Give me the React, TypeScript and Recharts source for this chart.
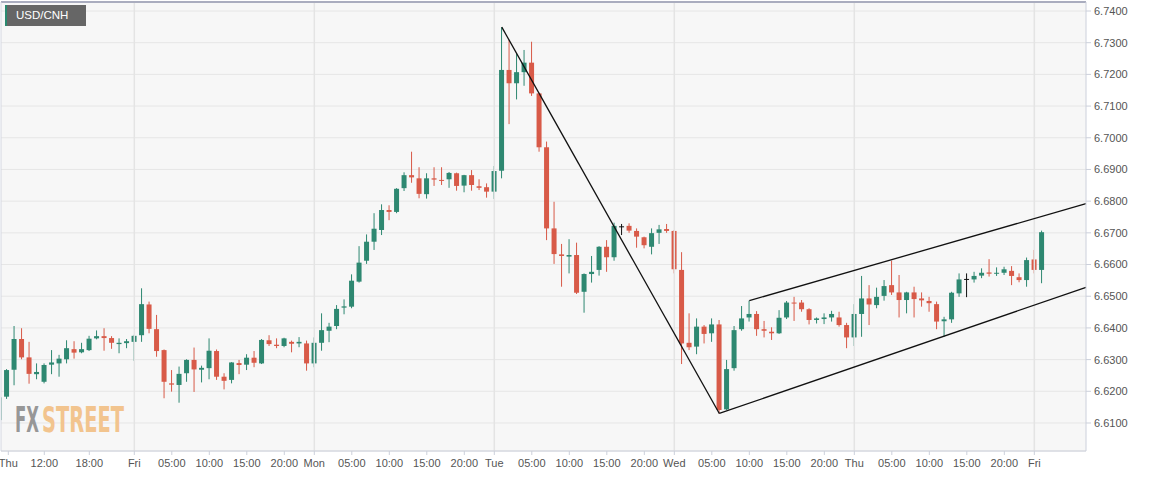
import { Bar, CartesianGrid, ComposedChart, ReferenceLine, XAxis, YAxis } from 'recharts'

// hourly candles, slot 0 = Thu 06:00
const opens = [
  6.6109, 6.6183, 6.6268, 6.6365, 6.6307, 6.6254, 6.6230, 6.6284, 6.6288, 6.6301,
  6.6333, 6.6323, 6.6330, 6.6367, 6.6374, 6.6368, 6.6349, 6.6352, 6.6356, 6.6377,
  6.6474, 6.6396, 6.6330, 6.6225, 6.6220, 6.6257, 6.6299, 6.6268, 6.6273, 6.6327,
  6.6246, 6.6236, 6.6289, 6.6284, 6.6306, 6.6288, 6.6361, 6.6347, 6.6343, 6.6356,
  6.6351, 6.6351, 6.6288, 6.6353, 6.6391, 6.6406, 6.6464, 6.6467, 6.6546, 6.6612,
  6.6672, 6.6709, 6.6772, 6.6766, 6.6841, 6.6882, 6.6872, 6.6822, 6.6872, 6.6867,
  6.6869, 6.6888, 6.6849, 6.6882, 6.6847, 6.6844, 6.6830, 6.6896, 6.7214, 6.7172,
  6.7207, 6.7237, 6.7140, 6.6970, 6.6714, 6.6632, 6.6625, 6.6630, 6.6514, 6.6570,
  6.6583, 6.6656, 6.6623, 6.6719, 6.6722, 6.6706, 6.6686, 6.6656, 6.6700, 6.6712,
  6.6706, 6.6583, 6.6353, 6.6341, 6.6404, 6.6383, 6.6411, 6.6143, 6.6273, 6.6396,
  6.6433, 6.6444, 6.6396, 6.6388, 6.6383, 6.6433, 6.6480, 6.6480, 6.6459, 6.6425,
  6.6428, 6.6433, 6.6433, 6.6409, 6.6370, 6.6444, 6.6493, 6.6472, 6.6501, 6.6535,
  6.6512, 6.6488, 6.6512, 6.6493, 6.6485, 6.6475, 6.6421, 6.6427, 6.6509, 6.6553,
  6.6553, 6.6565, 6.6575, 6.6571, 6.6574, 6.6580, 6.6560, 6.6551, 6.6616, 6.6583,
]
const highs = [
  6.6220, 6.6270, 6.6406, 6.6399, 6.6356, 6.6288, 6.6288, 6.6330, 6.6315, 6.6361,
  6.6358, 6.6353, 6.6375, 6.6392, 6.6399, 6.6374, 6.6367, 6.6365, 6.6378, 6.6525,
  6.6483, 6.6441, 6.6332, 6.6267, 6.6278, 6.6301, 6.6338, 6.6281, 6.6367, 6.6332,
  6.6257, 6.6292, 6.6299, 6.6317, 6.6327, 6.6365, 6.6377, 6.6367, 6.6369, 6.6360,
  6.6371, 6.6360, 6.6370, 6.6446, 6.6416, 6.6472, 6.6490, 6.6569, 6.6658, 6.6695,
  6.6762, 6.6790, 6.6787, 6.6841, 6.6891, 6.6956, 6.6907, 6.6888, 6.6907, 6.6907,
  6.6892, 6.6890, 6.6883, 6.6898, 6.6869, 6.6856, 6.6911, 6.7349, 6.7308, 6.7267,
  6.7277, 6.7303, 6.7142, 6.6988, 6.6798, 6.6665, 6.6680, 6.6669, 6.6572, 6.6627,
  6.6658, 6.6677, 6.6732, 6.6728, 6.6730, 6.6714, 6.6688, 6.6714, 6.6725, 6.6728,
  6.6709, 6.6639, 6.6446, 6.6430, 6.6409, 6.6430, 6.6425, 6.6299, 6.6406, 6.6469,
  6.6486, 6.6453, 6.6422, 6.6402, 6.6456, 6.6485, 6.6498, 6.6488, 6.6462, 6.6433,
  6.6446, 6.6454, 6.6451, 6.6416, 6.6475, 6.6564, 6.6535, 6.6527, 6.6551, 6.6612,
  6.6567, 6.6514, 6.6530, 6.6512, 6.6498, 6.6483, 6.6435, 6.6514, 6.6572, 6.6572,
  6.6577, 6.6588, 6.6617, 6.6591, 6.6593, 6.6595, 6.6572, 6.6622, 6.6646, 6.6707,
]
const lows = [
  6.6100, 6.6176, 6.6219, 6.6301, 6.6224, 6.6238, 6.6225, 6.6254, 6.6246, 6.6288,
  6.6303, 6.6320, 6.6327, 6.6364, 6.6328, 6.6334, 6.6320, 6.6336, 6.6296, 6.6356,
  6.6383, 6.6309, 6.6178, 6.6199, 6.6164, 6.6230, 6.6198, 6.6228, 6.6238, 6.6236,
  6.6206, 6.6225, 6.6254, 6.6267, 6.6276, 6.6286, 6.6343, 6.6336, 6.6339, 6.6323,
  6.6339, 6.6265, 6.6276, 6.6328, 6.6355, 6.6396, 6.6443, 6.6462, 6.6543, 6.6602,
  6.6646, 6.6693, 6.6740, 6.6762, 6.6832, 6.6858, 6.6809, 6.6808, 6.6848, 6.6851,
  6.6842, 6.6833, 6.6828, 6.6833, 6.6835, 6.6811, 6.6807, 6.6872, 6.7043, 6.7121,
  6.7164, 6.7132, 6.6956, 6.6677, 6.6602, 6.6530, 6.6572, 6.6507, 6.6448, 6.6543,
  6.6565, 6.6577, 6.6612, 6.6693, 6.6700, 6.6653, 6.6651, 6.6632, 6.6665, 6.6700,
  6.6572, 6.6286, 6.6330, 6.6317, 6.6351, 6.6356, 6.6130, 6.6141, 6.6265, 6.6391,
  6.6420, 6.6375, 6.6370, 6.6362, 6.6381, 6.6428, 6.6422, 6.6451, 6.6411, 6.6414,
  6.6412, 6.6420, 6.6404, 6.6336, 6.6343, 6.6372, 6.6409, 6.6462, 6.6486, 6.6504,
  6.6433, 6.6446, 6.6433, 6.6467, 6.6451, 6.6396, 6.6372, 6.6416, 6.6498, 6.6497,
  6.6543, 6.6557, 6.6562, 6.6564, 6.6567, 6.6535, 6.6544, 6.6530, 6.6572, 6.6541,
]
const closes = [
  6.6181, 6.6267, 6.6365, 6.6307, 6.6255, 6.6261, 6.6283, 6.6291, 6.6303, 6.6336,
  6.6322, 6.6333, 6.6366, 6.6374, 6.6368, 6.6353, 6.6353, 6.6358, 6.6375, 6.6475,
  6.6397, 6.6327, 6.6230, 6.6221, 6.6255, 6.6299, 6.6269, 6.6274, 6.6328, 6.6246,
  6.6233, 6.6291, 6.6283, 6.6306, 6.6290, 6.6362, 6.6349, 6.6343, 6.6367, 6.6350,
  6.6356, 6.6288, 6.6353, 6.6393, 6.6404, 6.6460, 6.6468, 6.6549, 6.6606, 6.6672,
  6.6713, 6.6772, 6.6766, 6.6839, 6.6882, 6.6875, 6.6823, 6.6872, 6.6868, 6.6865,
  6.6889, 6.6848, 6.6882, 6.6851, 6.6842, 6.6830, 6.6895, 6.7214, 6.7172, 6.7207,
  6.7237, 6.7140, 6.6970, 6.6714, 6.6633, 6.6627, 6.6630, 6.6511, 6.6570, 6.6577,
  6.6656, 6.6623, 6.6722, 6.6719, 6.6707, 6.6688, 6.6661, 6.6699, 6.6711, 6.6706,
  6.6585, 6.6351, 6.6339, 6.6404, 6.6381, 6.6411, 6.6141, 6.6270, 6.6393, 6.6430,
  6.6444, 6.6396, 6.6391, 6.6383, 6.6432, 6.6480, 6.6478, 6.6459, 6.6425, 6.6430,
  6.6433, 6.6444, 6.6409, 6.6370, 6.6444, 6.6493, 6.6474, 6.6498, 6.6532, 6.6512,
  6.6488, 6.6512, 6.6491, 6.6487, 6.6478, 6.6420, 6.6427, 6.6511, 6.6553, 6.6553,
  6.6564, 6.6574, 6.6571, 6.6574, 6.6585, 6.6564, 6.6551, 6.6614, 6.6583, 6.6702,
]

const tickSlots = [
  1.2, 6, 12, 18, 23, 28, 33, 38, 42, 47, 52, 57, 62, 66, 71, 76, 81, 86,
  90, 95, 100, 105, 110, 114, 119, 124, 129, 134, 138,
]
const tickLabels = [
  'Thu', '12:00', '18:00', 'Fri', '05:00', '10:00', '15:00', '20:00', 'Mon',
  '05:00', '10:00', '15:00', '20:00', 'Tue', '05:00', '10:00', '15:00', '20:00',
  'Wed', '05:00', '10:00', '15:00', '20:00', 'Thu', '05:00', '10:00', '15:00',
  '20:00', 'Fri',
]
const daySlots = [18, 42, 66, 90, 114, 138]
const priceTicks = [
  6.61, 6.62, 6.63, 6.64, 6.65, 6.66, 6.67, 6.68, 6.69, 6.7, 6.71, 6.72, 6.73, 6.74,
]

// drawn trend lines (slot, price)
const trendDown = [{ x: 67, y: 6.7349 }, { x: 96, y: 6.613 }]
const channelLow = [{ x: 96, y: 6.613 }, { x: 144.89, y: 6.6528 }]
const channelHigh = [{ x: 100, y: 6.6486 }, { x: 144.89, y: 6.6792 }]

const X_DOMAIN: [number, number] = [0.227, 144.89]
const Y_DOMAIN: [number, number] = [6.60116, 6.74284]

const GREEN = '#2e8871'
const RED = '#d85a48'
const DOJI = '#111111'
const FONT = "'Liberation Sans', Arial, sans-serif"
const MARK_FONT = "'DejaVu Sans Condensed', 'DejaVu Sans', sans-serif"

const chartData = opens.map((open, i) => ({
  slot: i,
  open,
  high: highs[i],
  low: lows[i],
  close: closes[i],
}))

function Candle(props: any) {
  const { x, y, width, height, payload } = props
  if (!payload || x == null || y == null) return null
  const { open, high, low, close } = payload
  const top = Math.min(y, y + height)
  const span = Math.abs(height)
  const k = span / (high - low)
  const py = (v: number) => top + (high - v) * k
  const cx = x + width / 2
  const color = close > open ? GREEN : close < open ? RED : DOJI
  const bodyTop = py(Math.max(open, close))
  const bodyH = Math.max(1, py(Math.min(open, close)) - bodyTop)

  return (
    <g>
      <line x1={cx} x2={cx} y1={top} y2={top + span} stroke={color} strokeWidth={1} />
      {open === close ? (
        <line x1={cx - 2.5} x2={cx + 2.5} y1={bodyTop} y2={bodyTop} stroke={color} strokeWidth={1} />
      ) : (
        <rect x={cx - 2.5} y={bodyTop} width={5} height={bodyH} fill={color} />
      )}
    </g>
  )
}

export default function App() {
  return (
    <div style={{ position: 'absolute', left: 0, top: 0, width: 1151, height: 477, background: '#fff' }}>
      <ComposedChart
        width={1151}
        height={477}
        data={chartData}
        margin={{ top: 2, right: 0, bottom: 0, left: 1 }}
      >
        <CartesianGrid vertical={false} stroke='#e6e6e6' fill='#f7f7f7' />
        {daySlots.map((d) => (
          <ReferenceLine key={d} x={d} stroke='#e4e4e4' strokeWidth={1.5} />
        ))}
        <XAxis
          type='number'
          dataKey='slot'
          domain={X_DOMAIN}
          allowDataOverflow
          ticks={tickSlots}
          interval={0}
          tickFormatter={(v) => tickLabels[tickSlots.indexOf(v)] ?? ''}
          height={26}
          stroke='#ccd0db'
          tickSize={4}
          tickMargin={4}
          tick={{ fill: '#555', fontSize: 11, fontFamily: FONT }}
        />
        <YAxis
          orientation='right'
          domain={Y_DOMAIN}
          allowDataOverflow
          ticks={priceTicks}
          interval={0}
          tickFormatter={(v) => Number(v).toFixed(4)}
          width={65}
          stroke='#ccd0db'
          tickSize={5}
          tickMargin={3}
          tick={{ fill: '#555', fontSize: 11, fontFamily: FONT }}
        />
        <ReferenceLine y={Y_DOMAIN[1]} stroke='#aaadbf' strokeWidth={2} ifOverflow='visible' />
        <ReferenceLine x={X_DOMAIN[0]} stroke='#d5d8e2' strokeWidth={1} ifOverflow='visible' />
        <Bar
          dataKey={(d: any) => [d.low, d.high]}
          barSize={5}
          shape={Candle}
          isAnimationActive={false}
        />
        <ReferenceLine segment={trendDown} stroke='#111' strokeWidth={1.3} ifOverflow='visible' />
        <ReferenceLine segment={channelLow} stroke='#111' strokeWidth={1.3} ifOverflow='visible' />
        <ReferenceLine segment={channelHigh} stroke='#111' strokeWidth={1.3} ifOverflow='visible' />
      </ComposedChart>

      <div
        style={{
          position: 'absolute',
          left: 5,
          top: 5,
          width: 70,
          height: 21,
          lineHeight: '21px',
          background: '#666',
          borderLeft: '2px solid #2a8a70',
          paddingLeft: 9,
          color: '#fff',
          fontSize: 11.5,
          fontFamily: FONT,
        }}
      >
        USD/CNH
      </div>

      <svg
        width={1151}
        height={477}
        style={{ position: 'absolute', left: 0, top: 0, pointerEvents: 'none' }}
      >
        <g transform='translate(0 432) scale(1 1.8)'>
          <text
            x={15}
            y={0}
            fontSize={20}
            fontWeight={700}
            fontFamily={MARK_FONT}
            fill='#979797'
            textLength={24}
            lengthAdjust='spacingAndGlyphs'
          >
            FX
          </text>
          <text
            x={42}
            y={0}
            fontSize={20}
            fontWeight={700}
            fontFamily={MARK_FONT}
            fill='#f2c48e'
            textLength={82}
            lengthAdjust='spacingAndGlyphs'
          >
            STREET
          </text>
        </g>
      </svg>
    </div>
  )
}
